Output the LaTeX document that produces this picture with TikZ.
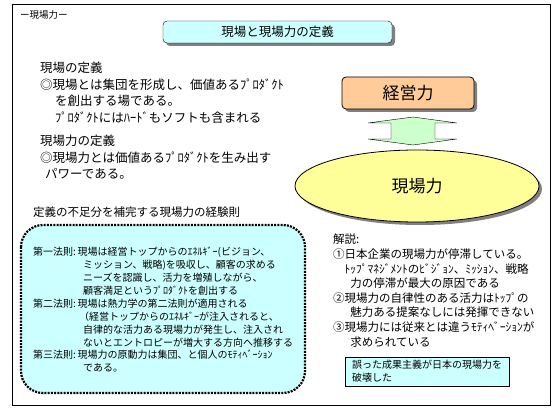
\documentclass[tikz,border=0pt]{standalone}
\usepackage{fontspec}
\setmainfont{Noto Sans CJK JP}
\usetikzlibrary{positioning, shadows, shapes.geometric}

\definecolor{paleCyan}{HTML}{CCFFFF}
\definecolor{paleOrange}{HTML}{FFCC99}
\definecolor{paleGreen}{HTML}{CCFFCC}
\definecolor{paleYellow}{HTML}{FFFF99}

\newcommand{\fsz}[2]{\fontsize{#1}{#2}\selectfont}

\begin{document}
\begin{tikzpicture}[x=1pt, y=-1pt,
  txt/.style={inner sep=0pt, anchor=north west, align=left},
  boxshadow/.style={drop shadow={shadow xshift=3pt, shadow yshift=-3pt,
    fill=black!50, opacity=1}},
  titlebox/.style={draw, thin, rounded corners=4pt, fill=paleCyan, boxshadow,
    minimum width=229pt, minimum height=22pt, font=\fsz{12.5}{14}},
  mgmtbox/.style={draw, thick, rounded corners=4pt, fill=paleOrange, boxshadow,
    minimum width=132pt, minimum height=32pt, font=\fsz{17}{20}},
  fieldshape/.style={draw, thick, ellipse, fill=paleYellow, boxshadow,
    minimum width=244pt, minimum height=72pt, font=\fsz{17}{20}},
  rulebox/.style={line width=2.2pt, dash pattern=on 2pt off 1.2pt,
    rounded corners=22pt},
  notebox/.style={draw, thin, fill=paleCyan}
]
  \useasboundingbox (0,0) rectangle (557,414);
  \draw[thin] (12,4) rectangle (550,405);

  % heading
  \node[txt, font=\fsz{9.5}{11}] (tag) at (20,10) {ー現場力ー};
  \node[titlebox] (title) at (277.5,32) {現場と現場力の定義};

  % definitions
  \node[txt, font=\fsz{12.5}{16.5}] (gdef) at (40,62) {%
    現場の定義\\
    ◎現場とは集団を形成し、価値あるﾌﾟﾛﾀﾞｸﾄ\\
    \hspace*{1.2em}を創出する場である。\\
    \hspace*{1.2em}ﾌﾟﾛﾀﾞｸﾄにはﾊｰﾄﾞもソフトも含まれる};
  \node[txt, font=\fsz{12.5}{16.5}] (rdef) at (40,135) {%
    現場力の定義\\
    ◎現場力とは価値あるﾌﾟﾛﾀﾞｸﾄを生み出す\\
    \hspace*{0.4em}パワーである。};

  % management vs field
  \node[mgmtbox] (mgmt) at (408,93) {経営力};
  \node[fieldshape] (field) at (417,186) {現場力};
  \coordinate (link) at (413,131);
  \draw[thin, fill=paleGreen] (link) ++(0,-14) -- ++(44,6) -- ++(-22,0)
    -- ++(0,16) -- ++(22,0) -- ++(-44,6) -- ++(-45,-6) -- ++(23,0)
    -- ++(0,-16) -- ++(-23,0) -- cycle;

  % rules of thumb
  \node[txt, font=\fsz{11.5}{13}] (rhead) at (33,207) {定義の不足分を補完する現場力の経験則};
  \fill[paleCyan, rounded corners=22pt] (21,225) rectangle (305,393);
  \draw[rulebox] (21,225) rectangle (305,393);
  \node[txt, font=\fsz{10}{12.9}] (rules) at (33,247) {%
    第一法則:\,現場は経営トップからのｴﾈﾙｷﾞｰ(ビジョン、\\
    \hspace*{5em}ミッション、戦略)を吸収し、顧客の求める\\
    \hspace*{5em}ニーズを認識し、活力を増殖しながら、\\
    \hspace*{5em}顧客満足というﾌﾟﾛﾀﾞｸﾄを創出する\\
    第二法則:\,現場は熱力学の第二法則が適用される\\
    \hspace*{4.6em}（経営トップからのｴﾈﾙｷﾞｰが注入されると、\\
    \hspace*{5em}自律的な活力ある現場力が発生し、注入され\\
    \hspace*{5em}ないとエントロピーが増大する方向へ推移する\\
    第三法則:\,現場力の原動力は集団、と個人のﾓﾃｨﾍﾞｰｼｮﾝ\\
    \hspace*{5em}である。};

  % commentary
  \node[txt, font=\fsz{11.5}{14.6}] (expl) at (333,234) {%
    解説:\\
    ①日本企業の現場力が停滞している。\\
    \hspace*{1em}ﾄｯﾌﾟﾏﾈｼﾞﾒﾝﾄのﾋﾞｼﾞｮﾝ、ﾐｯｼｮﾝ、戦略\\
    \hspace*{1.5em}力の停滞が最大の原因である\\
    ②現場力の自律性のある活力はﾄｯﾌﾟの\\
    \hspace*{1.5em}魅力ある提案なしには発揮できない\\
    ③現場力には従来とは違うﾓﾃｨﾍﾞｰｼｮﾝが\\
    \hspace*{1.5em}求められている};
  \draw[notebox] (345,357) rectangle (509,386);
  \node[txt, font=\fsz{10}{13}] (note) at (352,360) {%
    誤った成果主義が日本の現場力を\\
    破壊した};
\end{tikzpicture}
\end{document}
